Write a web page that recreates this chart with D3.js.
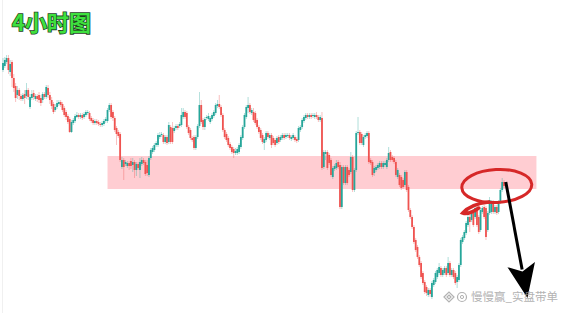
<!DOCTYPE html>
<html>
<head>
<meta charset="utf-8">
<script src="https://cdn.jsdelivr.net/npm/d3@7"></script>
<style>
  body { margin: 0; background: #fff; }
  svg { display: block; }
</style>
</head>
<body>
<div id="chart"></div>
<script>
// 4H candles: [open, high, low, close]
const candles = [
  [230,242,228,237],[234,243,232,240],[238,245,236,242],[242,245,226,230],[228,240,224,236],
  [238,240,213,222],[222,226,208,212],[214,217,198,202],[205,214,201,210],[210,212,200,204],
  [204,206,199,201],[201,207,199,205],[206,210,196,202],[204,217,201,210],[210,212,200,203],
  [193,206,191,203],[202,210,200,206],[207,210,200,203],[201,206,199,204],[204,206,198,201],
  [205,208,197,200],[202,205,194,197],[200,208,197,206],[206,208,201,203],[203,215,201,213],
  [212,215,202,205],[205,208,196,200],[200,203,191,194],[196,198,186,188],[190,196,188,193],
  [193,200,191,197],[196,200,194,198],[198,200,193,195],[196,198,188,190],[192,194,183,185],
  [188,190,180,183],[184,186,176,178],[181,183,167,168],[168,180,167,178],[177,182,175,180],
  [179,186,177,184],[183,188,182,185],[185,187,181,183],[183,187,181,185],[185,187,180,182],
  [183,188,181,186],[185,190,183,188],[187,190,185,188],[187,189,179,181],[182,184,177,179],
  [180,182,175,177],[177,181,175,179],[179,181,175,177],[178,180,174,176],[176,178,173,175],
  [175,179,173,177],[176,181,174,179],[179,183,177,181],[179,192,177,190],[190,197,188,195],
  // box
  [195,197,181,183],[188,190,179,182],[182,184,168,170],[172,174,155,166],[168,170,162,164],
  [166,168,138,140],[133,143,131,140],[140,142,120,133],[136,140,134,138],[134,139,132,137],
  [137,139,130,134],[139,142,131,134],[135,142,128,138],[138,140,122,130],[130,138,124,136],
  [136,138,130,132],[130,142,122,138],[136,143,134,140],[140,142,135,137],[138,140,124,126],
  [135,140,124,127],[125,144,123,142],[142,152,140,150],[148,154,146,152],[150,157,148,155],
  [155,159,153,157],[155,167,153,165],[163,168,161,165],[165,168,163,166],[165,167,156,158],
  [158,165,156,163],[163,165,155,157],[158,178,156,175],[173,175,156,158],[172,178,156,158],
  [169,174,167,172],[172,176,170,174],[174,176,170,172],[174,178,172,176],[175,192,173,185],
  [183,192,181,188],[188,190,181,183],[187,189,171,173],[173,175,165,167],[170,172,160,162],
  [162,164,158,160],[163,165,150,152],[152,165,150,163],[163,176,161,174],[174,208,172,195],
  [195,200,176,178],[180,182,170,173],[173,183,170,181],[182,185,180,183],[181,187,179,184],
  // double top
  [178,184,176,182],[181,187,179,185],[184,190,182,188],[187,197,185,195],[194,200,192,196],
  [196,205,191,193],[193,195,183,185],[185,187,168,170],[170,172,161,163],[166,168,158,160],
  [162,164,153,155],[156,158,150,152],[153,155,146,148],[151,153,142,147],[147,152,145,149],
  [147,153,145,151],[148,157,146,155],[153,165,151,163],[162,175,160,173],[173,187,171,185],
  [183,195,181,193],[192,203,187,195],[195,197,186,188],[187,192,185,190],[188,192,178,180],
  [187,189,175,177],[180,182,171,173],[173,175,166,168],[170,172,160,162],[165,167,156,158],
  [157,163,150,161],[160,169,158,167],[167,169,161,163],[162,167,160,165],[165,167,152,155],
  [162,164,155,157],[160,162,153,155],[157,164,155,162],[163,165,156,158],[160,165,158,163],
  [162,167,160,165],[165,167,160,162],[163,167,161,165],[164,167,162,165],[165,167,160,162],
  [161,165,159,163],[162,167,160,165],[163,165,158,160],[161,163,157,159],[160,174,158,172],
  [170,175,168,173],[173,182,171,180],[179,185,177,183],[182,187,180,185],[185,187,181,183],
  [183,187,181,185],[185,187,181,183],[184,187,182,185],[183,187,181,185],[185,188,181,183],
  [183,185,178,180],[180,185,178,183],[182,188,130,132],
  // inside the zone, then the drop
  [133,150,131,148],[146,150,140,148],[148,150,130,132],[145,147,135,137],[140,142,123,125],
  [123,134,121,132],[131,136,129,134],[132,140,130,137],[138,140,131,133],[135,138,91,93],
  [93,135,91,133],[133,135,115,117],[117,135,115,133],[133,135,115,117],[130,132,123,125],
  [128,148,126,143],[143,145,108,110],[110,132,108,130],[130,169,128,167],[167,183,165,168],
  [168,170,155,157],[166,168,155,157],[155,165,153,163],[163,167,161,165],[164,169,162,167],
  [167,169,136,138],[140,142,135,137],[138,140,123,125],[127,134,124,132],[130,135,128,133],
  [132,137,130,135],[133,139,131,137],[137,139,131,133],[133,139,131,137],[135,139,133,137],
  [133,142,131,140],[140,153,138,147],[148,150,138,140],[143,145,138,140],[142,144,136,138],
  [138,140,123,125],[123,132,121,130],[125,127,113,115],[123,125,110,112],[120,122,111,113],
  [115,130,113,128],[128,130,108,110],[113,115,88,90],[90,92,81,83],[83,85,71,73],
  [73,75,56,58],[60,62,48,50],[53,55,41,43],[43,45,33,35],[37,39,21,23],
  [27,29,15,17],[18,20,6,8],[13,15,4,7],[5,12,3,10],[10,12,3,6],
  [3,19,1,17],[15,22,13,20],[18,29,16,27],[23,32,21,30],[27,37,25,33],
  [32,34,23,25],[25,32,23,30],[27,34,25,32],[32,34,23,25],[27,43,25,37],
  [37,39,23,25],[25,32,23,30],[30,32,21,23],[27,29,15,17],[18,25,12,23],
  [20,37,18,35],[35,62,33,60],[58,65,56,63],[62,70,60,68],[67,79,65,77],
  [75,85,73,83],[83,85,68,78],[80,89,78,87],[87,89,73,75],[83,94,81,92],
  [92,94,73,75],[83,85,66,68],[70,92,68,90],[88,94,86,92],[93,95,81,83],
  [92,94,60,63],[70,89,68,87],[87,103,85,100],[88,100,86,98],[98,100,86,88],
  [88,95,86,93],[93,95,85,87],[88,100,86,98],[98,112,96,110],[110,122,108,118],
  [118,120,112,114]
];

// resistance zone (bar index range + price range)
const zoneBars = [58, 296];
const zonePrices = [111, 144];

// circled area and projected move
const circleAt = [274, 114];
const arrowFrom = [279, 118];
const arrowTo = [291, 2];

const titleText = "4小时图";
const watermarkText = "慢慢赢_实盘带单";

const W = 566, H = 313;
const upColor = "#26a69a", downColor = "#ef5350";

const svg = d3.select("#chart").append("svg")
  .attr("width", W)
  .attr("height", H);

svg.append("rect").attr("width", W).attr("height", H).attr("fill", "#fff");

const x = d3.scaleLinear().domain([0, candles.length - 1]).range([3, 504]);
const y = d3.scaleLinear().domain([0, 300]).range([300, 0]);
const bodyW = 1.8;

// faint border of the screenshot
svg.append("line")
  .attr("x1", 2.5).attr("x2", 2.5).attr("y1", 0).attr("y2", H)
  .attr("stroke", "#f0f0f0");

// zone
svg.append("rect")
  .attr("x", x(zoneBars[0]))
  .attr("y", y(zonePrices[1]))
  .attr("width", x(zoneBars[1]) - x(zoneBars[0]))
  .attr("height", y(zonePrices[0]) - y(zonePrices[1]))
  .attr("fill", "#ffcdd2");

// candles
const g = svg.append("g");
const bars = g.selectAll("g.c")
  .data(candles)
  .enter()
  .append("g")
  .attr("class", "c");

bars.append("line")
  .attr("x1", (d, i) => x(i))
  .attr("x2", (d, i) => x(i))
  .attr("y1", d => y(d[1]))
  .attr("y2", d => y(d[2]))
  .attr("stroke", d => d[3] >= d[0] ? upColor : downColor)
  .attr("stroke-width", 0.8)
  .attr("opacity", 0.45);

bars.append("rect")
  .attr("x", (d, i) => x(i) - bodyW / 2)
  .attr("y", d => y(Math.max(d[0], d[3])))
  .attr("width", bodyW)
  .attr("height", d => Math.max(1, Math.abs(y(d[0]) - y(d[3]))))
  .attr("fill", d => d[3] >= d[0] ? upColor : downColor);

// red circle
const cx = x(circleAt[0]), cy = y(circleAt[1]);
svg.append("ellipse")
  .attr("cx", cx).attr("cy", cy)
  .attr("rx", 35).attr("ry", 16.5)
  .attr("transform", `rotate(-3, ${cx}, ${cy})`)
  .attr("fill", "none")
  .attr("stroke", "#d62828")
  .attr("stroke-width", 3);

svg.append("path")
  .attr("d", `M${cx - 8},${cy + 16} Q${cx - 26},${cy + 18} ${cx - 34},${cy + 27} Q${cx - 28},${cy + 29} ${cx - 18},${cy + 22}`)
  .attr("fill", "none")
  .attr("stroke", "#d62828")
  .attr("stroke-width", 3.5)
  .attr("stroke-linecap", "round");

// black arrow
const ax0 = x(arrowFrom[0]), ay0 = y(arrowFrom[1]);
const ax1 = x(arrowTo[0]), ay1 = y(arrowTo[1]);
const ang = Math.atan2(ay1 - ay0, ax1 - ax0);
const headLen = 34, headHalf = 14;
const bx = ax1 - headLen * Math.cos(ang), by = ay1 - headLen * Math.sin(ang);
const nx = -Math.sin(ang), ny = Math.cos(ang);

svg.append("line")
  .attr("x1", ax0).attr("y1", ay0)
  .attr("x2", bx + 5 * Math.cos(ang)).attr("y2", by + 5 * Math.sin(ang))
  .attr("stroke", "#000")
  .attr("stroke-width", 3);

svg.append("path")
  .attr("d", `M${ax1},${ay1} L${bx + nx * headHalf},${by + ny * headHalf} L${bx + 7 * Math.cos(ang)},${by + 7 * Math.sin(ang)} L${bx - nx * headHalf},${by - ny * headHalf} Z`)
  .attr("fill", "#000");

// title
svg.append("text")
  .attr("x", 12)
  .attr("y", 31)
  .style("font-family", "'Noto Sans CJK SC', sans-serif")
  .style("font-size", "22px")
  .style("font-weight", "bold")
  .attr("fill", "#3ee03e")
  .attr("stroke", "#1e3d1e")
  .attr("stroke-width", 1.6)
  .attr("paint-order", "stroke")
  .text(titleText);

// watermark
const wm = svg.append("g").attr("opacity", 0.75);
wm.append("path")
  .attr("d", "M444,297 L449,292 L454,297 L449,302 Z M449,295 L451,297 L449,299 L447,297 Z")
  .attr("fill", "none")
  .attr("stroke", "#999")
  .attr("stroke-width", 1.2);
wm.append("circle").attr("cx", 462).attr("cy", 297).attr("r", 4.5)
  .attr("fill", "none").attr("stroke", "#999").attr("stroke-width", 1.2);
wm.append("circle").attr("cx", 462).attr("cy", 297).attr("r", 1.6)
  .attr("fill", "none").attr("stroke", "#999").attr("stroke-width", 1);
wm.append("text")
  .attr("x", 471)
  .attr("y", 301)
  .style("font-family", "'Noto Sans CJK SC', sans-serif")
  .style("font-size", "11.5px")
  .attr("fill", "#9a9a9a")
  .text(watermarkText);
</script>
</body>
</html>
